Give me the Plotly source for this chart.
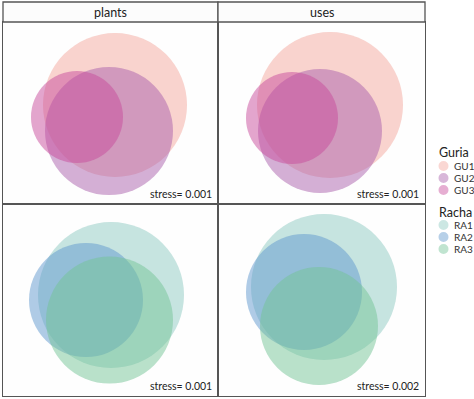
import plotly.graph_objects as go

# ---------------- data ----------------
columns = ["plants", "uses"]
guria_names = ["GU1", "GU2", "GU3"]
racha_names = ["RA1", "RA2", "RA3"]
guria_colors = ["#F3A79D", "#A95FAB", "#C74B9B"]
racha_colors = ["#8DC9C1", "#5F97CD", "#73C496"]

plants_guria_x = [0.045, -0.015, -0.335]
plants_guria_y = [0.08, -0.18, -0.04]
plants_guria_r = [0.72, 0.64, 0.46]

uses_guria_x = [0.085, -0.015, -0.295]
uses_guria_y = [0.08, -0.18, -0.05]
uses_guria_r = [0.73, 0.62, 0.46]

plants_racha_x = [0.005, -0.245, -0.01]
plants_racha_y = [0.05, 0.0, -0.20]
plants_racha_r = [0.73, 0.57, 0.635]

uses_racha_x = [0.025, -0.175, -0.025]
uses_racha_y = [0.13, 0.08, -0.26]
uses_racha_r = [0.73, 0.58, 0.59]

stress_labels = ["0.001", "0.001", "0.001", "0.002"]

# ---------------- layout geometry (pixels) ----------------
W, H = 474, 399
FONT = "Lato"
col_px = [(3, 218), (218, 425)]
strip_px = (2, 22)
row_px = [(22, 204), (204, 396)]
UNIT = 100.0  # pixels per data unit

def px(x):
    return x / W

def py(y):
    return 1 - y / H

fig = go.Figure()

panels = [
    (0, 0, plants_guria_x, plants_guria_y, plants_guria_r, guria_colors, guria_names),
    (0, 1, uses_guria_x, uses_guria_y, uses_guria_r, guria_colors, guria_names),
    (1, 0, plants_racha_x, plants_racha_y, plants_racha_r, racha_colors, racha_names),
    (1, 1, uses_racha_x, uses_racha_y, uses_racha_r, racha_colors, racha_names),
]

shapes = []
annotations = []
axis_style = dict(showline=True, mirror=True, linecolor="#555555", linewidth=1.3,
                  showticklabels=False, showgrid=False, zeroline=False, ticks="",
                  fixedrange=True)

for i, (row, col, xs, ys, rs, cols, names) in enumerate(panels):
    n = i + 1
    sfx = "" if n == 1 else str(n)
    x0p, x1p = col_px[col]
    y0p, y1p = row_px[row]
    hw = (x1p - x0p) / 2 / UNIT
    hh = (y1p - y0p) / 2 / UNIT
    fig.layout["xaxis" + sfx] = dict(domain=[px(x0p), px(x1p)], range=[-hw, hw],
                                     anchor="y" + sfx, **axis_style)
    fig.layout["yaxis" + sfx] = dict(domain=[py(y1p), py(y0p)], range=[-hh, hh],
                                     anchor="x" + sfx, **axis_style)
    fig.add_trace(go.Scatter(x=xs, y=ys, mode="markers", marker=dict(opacity=0),
                             hoverinfo="skip", showlegend=False,
                             xaxis="x" + sfx, yaxis="y" + sfx))
    for cx, cy, r, c in zip(xs, ys, rs, cols):
        shapes.append(dict(type="circle", xref="x" + sfx, yref="y" + sfx,
                           x0=cx - r, x1=cx + r, y0=cy - r, y1=cy + r,
                           fillcolor=c, opacity=0.5, line=dict(width=0), layer="below"))
    annotations.append(dict(text="stress= " + stress_labels[i], xref="paper", yref="paper",
                            x=px(x1p - 4), y=py(y1p - 2), xanchor="right", yanchor="bottom",
                            showarrow=False, font=dict(family=FONT, size=10.5, color="#222222")))

# strips
for col, name in enumerate(columns):
    x0p, x1p = col_px[col]
    shapes.append(dict(type="rect", xref="paper", yref="paper",
                       x0=px(x0p), x1=px(x1p), y0=py(strip_px[1]), y1=py(strip_px[0]),
                       fillcolor="#FCFCFC", line=dict(color="#555555", width=1.3)))
    annotations.append(dict(text=name, xref="paper", yref="paper",
                            x=px((x0p + x1p) / 2), y=py((strip_px[0] + strip_px[1]) / 2 + 0.5),
                            xanchor="center", yanchor="middle", showarrow=False,
                            font=dict(family=FONT, size=12.5, color="#222222")))

# manual legend
legend_groups = [("Guria", guria_names, guria_colors, 153),
                 ("Racha", racha_names, racha_colors, 212)]
for title, names, cols, ty in legend_groups:
    annotations.append(dict(text=title, xref="paper", yref="paper", x=px(437), y=py(ty),
                            xanchor="left", yanchor="middle", showarrow=False,
                            font=dict(family=FONT, size=12.5, color="#222222")))
    for k, (nm, c) in enumerate(zip(names, cols)):
        yy = ty + 13 + k * 12
        shapes.append(dict(type="circle", xref="paper", yref="paper",
                           xsizemode="pixel", ysizemode="pixel",
                           xanchor=px(443.5), yanchor=py(yy),
                           x0=-5, x1=5, y0=-5, y1=5,
                           fillcolor=c, opacity=0.45, line=dict(width=0)))
        annotations.append(dict(text=nm, xref="paper", yref="paper", x=px(451.5), y=py(yy),
                                xanchor="left", yanchor="middle", showarrow=False,
                                font=dict(family=FONT, size=10, color="#333333")))

fig.update_layout(width=W, height=H, margin=dict(l=0, r=0, t=0, b=0),
                  paper_bgcolor="white", plot_bgcolor="#FEFEFE",
                  shapes=shapes, annotations=annotations, showlegend=False,
                  font=dict(family=FONT))

fig.write_html("out.html", config={"displayModeBar": False},
               post_script="document.body.style.margin='0px';document.body.style.overflow='hidden';")
